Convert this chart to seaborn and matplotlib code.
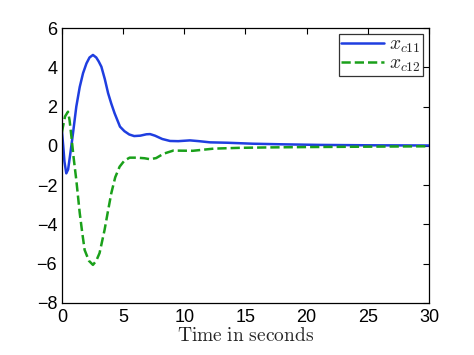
import pandas as pd
import matplotlib
matplotlib.use('Agg')
import matplotlib.pyplot as plt
import seaborn as sns

# Values
t_c11 = [0, 0.1, 0.2, 0.35, 0.5, 0.7, 0.9, 1.17, 1.45, 1.72, 2.0, 2.25, 2.53, 2.8, 3.0,
         3.22, 3.5, 3.77, 4.03, 4.3, 4.74, 5.1, 5.5, 5.9, 6.4, 6.9, 7.2, 7.6, 8.2, 8.83,
         9.5, 10.46, 11.2, 12.1, 13.5, 15.6, 18, 21, 25, 30]
x_c11 = [0.7, 0.0, -0.8, -1.4, -1.2, -0.3, 0.65, 2.0, 3.0, 3.7, 4.2, 4.5, 4.63, 4.5, 4.3,
         4.03, 3.4, 2.68, 2.15, 1.66, 0.98, 0.75, 0.58, 0.5, 0.52, 0.59, 0.6, 0.52, 0.35, 0.25,
         0.24, 0.28, 0.24, 0.18, 0.16, 0.11, 0.08, 0.05, 0.03, 0.02]

t_c12 = [0, 0.08, 0.25, 0.49, 0.62, 0.77, 0.95, 1.17, 1.45, 1.65, 1.85, 2.2, 2.53, 2.8, 3.07,
         3.48, 3.75, 4.03, 4.35, 4.71, 5.1, 5.53, 6.1, 6.75, 7.2, 7.7, 8.3, 9.1, 10.7, 12.4,
         14.5, 16.7, 20, 25, 30]
x_c12 = [0.7, 0.98, 1.5, 1.74, 1.3, 0.47, -0.6, -1.74, -3.42, -4.4, -5.3, -5.85, -6.06, -5.85, -5.46,
         -4.28, -3.35, -2.41, -1.6, -1.06, -0.75, -0.6, -0.6, -0.63, -0.68, -0.62, -0.4, -0.24, -0.25, -0.14,
         -0.1, -0.08, -0.06, -0.04, -0.02]

x_ticks = [0, 5, 10, 15, 20, 25, 30]
y_ticks = [-8, -6, -4, -2, 0, 2, 4, 6]

sns.set_style('white')
plt.rcParams['font.family'] = ['Liberation Sans', 'DejaVu Sans']
plt.rcParams['mathtext.fontset'] = 'cm'
plt.rcParams['axes.unicode_minus'] = True

fig = plt.figure(figsize=(4.74, 3.55), dpi=100)
ax = fig.add_axes([0.1308, 0.1465, 0.7742, 0.7745])

df1 = pd.DataFrame({'t': t_c11, 'x': x_c11})
df2 = pd.DataFrame({'t': t_c12, 'x': x_c12})
sns.lineplot(data=df1, x='t', y='x', ax=ax, color='#1f3ee0', linewidth=1.8,
             label=r'$x_{c11}$')
sns.lineplot(data=df2, x='t', y='x', ax=ax, color='#1aa01a', linewidth=1.8,
             linestyle='--', dashes=(3.5, 2.2), label=r'$x_{c12}$')

ax.set_xlim(0, 30)
ax.set_ylim(-8, 6)
ax.set_xticks(x_ticks)
ax.set_yticks(y_ticks)
ax.tick_params(direction='in', length=4, width=0.8, labelsize=13,
               top=True, right=True, colors='black')
ax.tick_params(axis='x', pad=4)
for s in ax.spines.values():
    s.set_color('black')
    s.set_linewidth(0.9)

ax.set_xlabel(r'$\mathrm{Time\ in\ seconds}$', fontsize=14, labelpad=1)
ax.set_ylabel('')

leg = ax.legend(loc='upper right', fontsize=14, frameon=True, fancybox=False,
                handlelength=2.2, borderpad=0.1, labelspacing=0.0,
                handletextpad=0.3, borderaxespad=0.3)
leg.get_frame().set_edgecolor('black')
leg.get_frame().set_linewidth(0.9)

fig.savefig('out.png', dpi=100)
